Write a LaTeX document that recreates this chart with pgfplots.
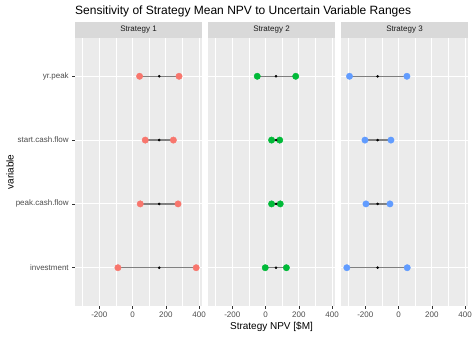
\documentclass[border=0pt]{standalone}
\usepackage{pgfplots}
\pgfplotsset{compat=1.18}
\usepackage{pgfplotstable}
\usepackage{fontspec}
\setmainfont{Liberation Sans}
\definecolor{panelbg}{HTML}{EBEBEB}
\definecolor{stripbg}{HTML}{D9D9D9}
\definecolor{gtwenty}{HTML}{333333}
\definecolor{gthirty}{HTML}{4D4D4D}
\definecolor{gten}{HTML}{1A1A1A}
\definecolor{seggray}{HTML}{808080}
\definecolor{cone}{HTML}{F8766D}
\definecolor{ctwo}{HTML}{00BA38}
\definecolor{cthree}{HTML}{619CFF}

\pgfplotstableread{
var y lo mean hi
investment 1 -88 160 382
peak.cash.flow 2 46 160 273
start.cash.flow 3 76 160 245
yr.peak 4 42 160 279
}\sone
\pgfplotstableread{
var y lo mean hi
investment 1 -2 63 125
peak.cash.flow 2 36 63 88
start.cash.flow 3 36 63 85
yr.peak 4 -50 63 181
}\stwo
\pgfplotstableread{
var y lo mean hi
investment 1 -311 -126 52
peak.cash.flow 2 -196 -126 -52
start.cash.flow 3 -202 -126 -46
yr.peak 4 -295 -126 50
}\sthree

\pgfplotsset{
  facet/.style={
    scale only axis, width=127pt, height=268pt,
    anchor=south west,
    xmin=-346, xmax=417, ymin=0.4, ymax=4.6,
    axis line style={draw=none},
    axis background/.style={fill=panelbg},
    xtick={-200,0,200,400}, xticklabels={-200,0,200,400},
    minor xtick={-300,-100,100,300},
    xmajorgrids, xminorgrids, ymajorgrids,
    major grid style={white, line width=1.1pt},
    minor grid style={white, line width=0.55pt},
    tick align=outside, tick pos=left,
    major tick length=2.75pt, minor tick length=0pt,
    tick style={color=gtwenty, line width=0.55pt},
    ticklabel style={font=\fontsize{8}{9.6}\selectfont, text=gthirty},
    every axis title shift=0pt,
    title style={at={(0.5,1)}, anchor=south, fill=stripbg,
      minimum width=127pt, minimum height=16pt, inner sep=0pt,
      font=\fontsize{8}{9.6}\selectfont, text=gten},
    clip=false,
  },
}

\newcommand{\drawpanel}[2]{%
  \pgfplotsforeachungrouped \r in {0,1,2,3}{%
    \pgfplotstablegetelem{\r}{y}\of{#1}\let\yy\pgfplotsretval
    \pgfplotstablegetelem{\r}{lo}\of{#1}\let\xlo\pgfplotsretval
    \pgfplotstablegetelem{\r}{hi}\of{#1}\let\xhi\pgfplotsretval
    \edef\tmp{\noexpand\addplot[color=seggray, line width=1.5pt, forget plot]
      coordinates {(\xlo,\yy) (\xhi,\yy)};}\tmp
  }%
  \addplot[only marks, mark=*, mark size=3.2pt, color=#2] table[x=lo, y=y] {#1};
  \addplot[only marks, mark=*, mark size=3.2pt, color=#2] table[x=hi, y=y] {#1};
  \addplot[only marks, mark=*, mark size=1.1pt, black] table[x=mean, y=y] {#1};
}

\begin{document}
\begin{tikzpicture}[x=1pt,y=1pt]
\path[use as bounding box] (0,0) rectangle (474,338);

\begin{axis}[facet, at={(75pt,32pt)}, title={Strategy 1},
  ytick={1,2,3,4},
  yticklabels={investment, peak.cash.flow, start.cash.flow, yr.peak}]
\drawpanel{\sone}{cone}
\end{axis}

\begin{axis}[facet, at={(208pt,32pt)}, title={Strategy 2},
  ytick=\empty, extra y ticks={1,2,3,4}, extra y tick labels={},
  extra y tick style={grid=major, major tick length=0pt}]
\drawpanel{\stwo}{ctwo}
\end{axis}

\begin{axis}[facet, at={(341pt,32pt)}, title={Strategy 3},
  ytick=\empty, extra y ticks={1,2,3,4}, extra y tick labels={},
  extra y tick style={grid=major, major tick length=0pt}]
\drawpanel{\sthree}{cthree}
\end{axis}

\node[anchor=west, inner sep=0pt, font=\fontsize{12}{14}\selectfont] at (75,327) {Sensitivity of Strategy Mean NPV to Uncertain Variable Ranges};
\node[font=\fontsize{10}{12}\selectfont] at (271.5,11) {Strategy NPV [\$M]};
\node[rotate=90, font=\fontsize{10}{12}\selectfont] at (10,166) {variable};
\end{tikzpicture}
\end{document}
